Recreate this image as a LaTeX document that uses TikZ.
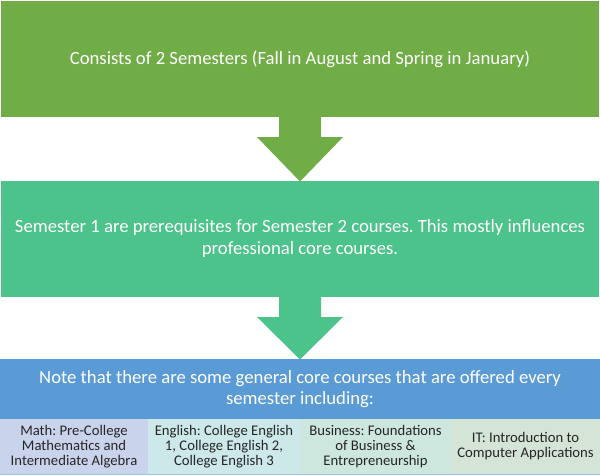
\documentclass[tikz,border=0pt]{standalone}
\usepackage{fontspec}
\setmainfont{Carlito}
\usetikzlibrary{calc}
\frenchspacing
\definecolor{gone}{HTML}{70AD47}
\definecolor{gtwo}{HTML}{4CC38B}
\definecolor{bthree}{HTML}{5B9BD5}
\definecolor{cella}{HTML}{C9D4EC}
\definecolor{cellb}{HTML}{CDE8E8}
\definecolor{cellc}{HTML}{CDE6DE}
\definecolor{celld}{HTML}{D4E4D6}
\definecolor{celltext}{HTML}{262626}
\tikzset{
  bigbox/.style={rectangle, inner sep=0pt, outer sep=0pt, text=white, align=center},
  cellbox/.style={rectangle, inner sep=0pt, outer sep=0pt, text=celltext, align=center,
    minimum height=55pt, font=\fontsize{14.7}{15}\selectfont},
}
\begin{document}
\begin{tikzpicture}[x=1pt,y=-1pt]
\useasboundingbox (0,0) rectangle (600,475);
% boxes
\node[bigbox, fill=gone, minimum width=598pt, minimum height=116pt,
  font=\fontsize{18.7}{22}\selectfont] (b1) at (300,59)
  {Consists of 2 Semesters (Fall in August and Spring in January)};
\node[bigbox, fill=gtwo, minimum width=598pt, minimum height=116pt,
  font=\fontsize{18.7}{22}\selectfont] (b2) at (300,239)
  {Semester 1 are prerequisites for Semester 2 courses. This mostly influences\\professional core courses.};
\node[bigbox, fill=bthree, minimum width=600pt, minimum height=60pt,
  font=\fontsize{18.7}{21}\selectfont] (b3) at (300,389)
  {Note that there are some general core courses that are offered every\\semester including:};
% cells
\node[cellbox, fill=cella, minimum width=148pt, anchor=north west] (c1) at (0,419)
  {Math: Pre-College\\Mathematics and\\Intermediate Algebra};
\node[cellbox, fill=cellb, minimum width=152pt, anchor=north west] (c2) at (148,419)
  {English: College English\\1, College English 2,\\College English 3};
\node[cellbox, fill=cellc, minimum width=151pt, anchor=north west] (c3) at (300,419)
  {Business: Foundations\\of Business \&\\Entrepreneurship};
\node[cellbox, fill=celld, minimum width=149pt, anchor=north west] (c4) at (451,419)
  {IT: Introduction to\\Computer Applications};
\draw[bthree!60, line width=0.8pt] (c1.south west) -- (c4.south east);
% arrows
\fill[gone] ($(b1.south)+(-21,0)$) -- ++(0,20) -- ++(-22,0) -- ($(b2.north)+(0,0.5)$)
  -- ($(b1.south)+(43,20)$) -- ++(-22,0) -- ($(b1.south)+(21,0)$) -- cycle;
\fill[gtwo] ($(b2.south)+(-21,0)$) -- ++(0,20) -- ++(-22,0) -- ($(b3.north)+(0,0.5)$)
  -- ($(b2.south)+(43,20)$) -- ++(-22,0) -- ($(b2.south)+(21,0)$) -- cycle;
\end{tikzpicture}
\end{document}
